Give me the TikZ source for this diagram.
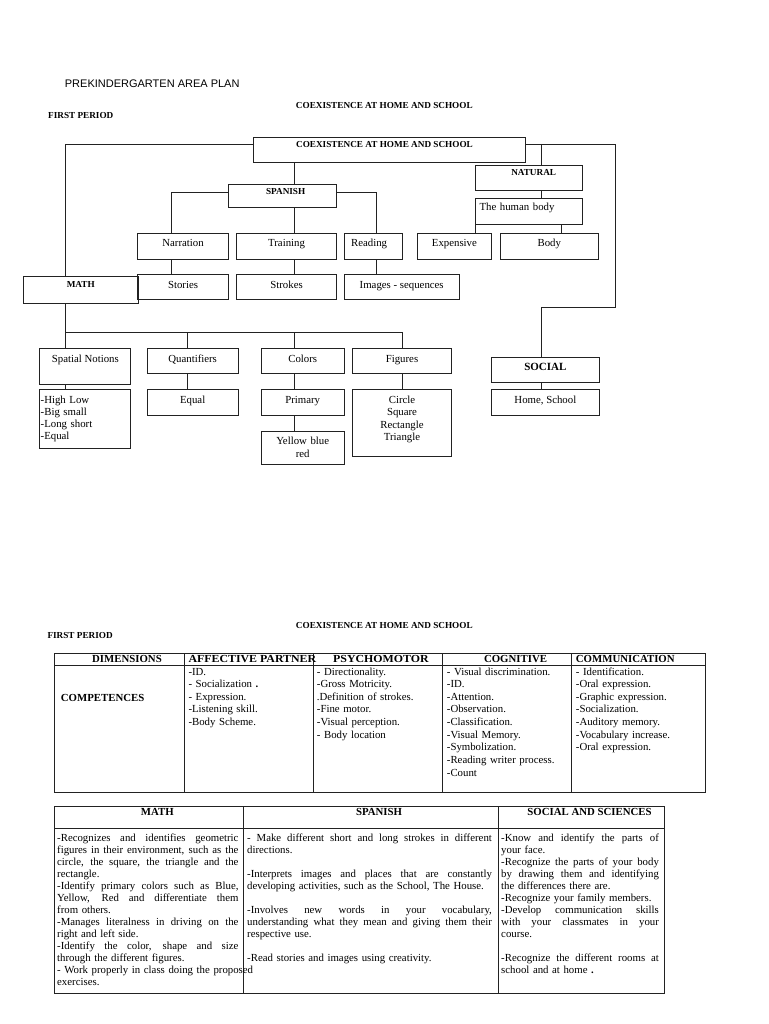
\documentclass[tikz,border=0pt]{standalone}
\usepackage{fontspec}
\setmainfont{Liberation Serif}
\newfontfamily\arialf{Liberation Sans}
\usetikzlibrary{calc}
\definecolor{linec}{HTML}{222222}
\newcommand\ftree{\fontsize{10.8}{12.5}\selectfont}
\newcommand\fttl{\fontsize{9.2}{11}\selectfont\bfseries}
\newcommand\fsoc{\fontsize{11}{13}\selectfont\bfseries}
\newcommand\ftab{\fontsize{10.8}{12.65}\selectfont}
\newcommand\ftabb{\fontsize{10.8}{12.07}\selectfont}
\newcommand\fhead{\fontsize{10.8}{12}\selectfont\bfseries}
\def\cw{100pt}
\newcommand\jl[1]{\leavevmode\hbox to \cw{\spaceskip=0.25em plus 1fil\relax #1}}
\newcommand\nl[1]{\leavevmode\hbox to \cw{#1\hss}}
\begin{document}
\begin{tikzpicture}[x=1pt,y=-1pt,
  bx/.style={draw=linec, line width=0.95pt, inner sep=0pt, font=\ftree, text=black},
  conn/.style={draw=linec, line width=0.95pt},
  tab/.style={draw=linec, line width=1pt},
  txt/.style={inner sep=0pt, text=black},
]
\useasboundingbox[fill=white] (0,0) rectangle (768,1024);

% ---------- titles ----------
\node[txt, font=\arialf\fontsize{11}{13}\selectfont, anchor=base west] (title) at (64.7,87.2) {PREKINDERGARTEN AREA PLAN};
\node[txt, font=\fttl, anchor=base] (sub1) at (384.3,108.7) {COEXISTENCE AT HOME AND SCHOOL};
\node[txt, font=\fttl, anchor=base west] (fp1) at (48,119) {FIRST PERIOD};

% ---------- tree boxes ----------
\node[bx, font=\fttl, minimum width=272pt, text height=11pt, text depth=14pt] (main) at (389,149.5) {COEXISTENCE AT HOME AND SCHOOL\kern9pt};
\node[bx, font=\fttl, minimum width=107.9pt, text height=10.7pt, text depth=12.7pt] (spanish) at (282.35,196) {\kern6.6pt SPANISH};
\node[bx, font=\fttl, minimum width=106.9pt, text height=10.7pt, text depth=14pt] (natural) at (528.95,177.65) {\kern9.4pt NATURAL};
\node[bx, text width=98.9pt, inner xsep=4pt, align=left, text height=12.7pt, text depth=13pt] (humanbody) at (528.95,211.15) {The human body};

\node[bx, minimum width=73.6pt, text height=13.7pt, text depth=12.3pt] (expensive) at (454.4,246.3) {Expensive};
\node[bx, minimum width=98.5pt, text height=13.7pt, text depth=12.3pt] (body) at (549.25,246.3) {Body};
\node[bx, minimum width=90.7pt, text height=13.7pt, text depth=12.3pt] (narration) at (183.05,246.3) {Narration};
\node[bx, minimum width=99.5pt, text height=13.7pt, text depth=12.3pt] (training) at (286.55,246.3) {Training};
\node[bx, text width=50.9pt, inner xsep=3.5pt, align=left, text height=13.7pt, text depth=12.3pt] (reading) at (373.05,246.3) {\hspace*{3.5pt}Reading};

\node[bx, minimum width=90.7pt, text height=13.7pt, text depth=11.3pt] (stories) at (183.05,286.8) {Stories};
\node[bx, minimum width=99.5pt, text height=13.7pt, text depth=11.3pt] (strokes) at (286.55,286.8) {Strokes};
\node[bx, minimum width=115.2pt, text height=13.7pt, text depth=11.3pt] (images) at (401.7,286.8) {Images - sequences};
\node[bx, font=\fttl, minimum width=114.5pt, text height=11.5pt, text depth=15.5pt] (math) at (80.75,289.5) {MATH};

\node[bx, minimum width=91.2pt, text height=14.2pt, text depth=21.8pt] (spatial) at (85.3,366.3) {Spatial Notions};
\node[bx, minimum width=91.1pt, text height=14pt, text depth=11pt] (quant) at (192.65,360.8) {Quantifiers};
\node[bx, minimum width=82.8pt, text height=14pt, text depth=11pt] (colors) at (302.7,360.8) {Colors};
\node[bx, minimum width=99pt, text height=14pt, text depth=11pt] (figures) at (402,360.8) {Figures};
\node[bx, font=\fsoc, minimum width=107.3pt, text height=12.7pt, text depth=12.3pt] (social) at (545.35,369.8) {SOCIAL};

\node[bx, font=\fontsize{10.8}{12.2}\selectfont, text width=89.2pt, inner xsep=1pt, align=left, text height=14pt, text depth=45pt] (highlow) at (85.3,418.8) {-High Low\\-Big small\\-Long short\\-Equal};
\node[bx, minimum width=91.1pt, text height=13.7pt, text depth=12.3pt] (equal) at (192.65,402.3) {Equal};
\node[bx, minimum width=82.8pt, text height=13.7pt, text depth=12.3pt] (primary) at (302.7,402.3) {Primary};
\node[bx, font=\fontsize{10.8}{13.4}\selectfont, text width=82.8pt, align=center, text height=13pt, text depth=20.7pt] (yellow) at (302.7,447.85) {Yellow blue\\red};
\node[bx, font=\fontsize{10.8}{12.5}\selectfont, text width=99pt, align=center, text height=13.7pt, text depth=53.3pt] (shapes) at (402,422.8) {Circle\\Square\\Rectangle\\Triangle};
\node[bx, minimum width=107.3pt, text height=13.7pt, text depth=12.3pt] (home) at (545.35,402.3) {Home, School};

% ---------- tree connectors ----------
\coordinate (rbend) at (615,307);
\coordinate (nj) at (541.7,144);
\coordinate (busL) at (65.2,332);
\draw[conn] ([yshift=5.5pt]main.west) -| ([xshift=-15.5pt]math.north);
\draw[conn] ([yshift=5.5pt]main.east) -| (rbend) -| ([xshift=-3.65pt]social.north);
\draw[conn] (nj) -- (nj |- natural.north);
\draw[conn] (nj |- natural.south) -- (nj |- humanbody.north);
\draw[conn] (humanbody.south west) -- (humanbody.south west |- expensive.north);
\draw[conn] ([xshift=12pt]body.north) -- ([xshift=12pt]body.north |- humanbody.south);
\draw[conn] ([xshift=12.3pt]spanish.north) -- ([xshift=12.3pt]spanish.north |- main.south);
\draw[conn] ([yshift=4pt]spanish.west) -| ([xshift=-12pt]narration.north);
\draw[conn] ([xshift=8.1pt]training.north) -- ([xshift=8.1pt]training.north |- spanish.south);
\draw[conn] ([yshift=4pt]spanish.east) -| ([xshift=3.5pt]reading.north);
\draw[conn] ([xshift=-12pt]narration.south) -- ([xshift=-12pt]stories.north);
\draw[conn] ([xshift=8.1pt]training.south) -- ([xshift=8.1pt]strokes.north);
\draw[conn] ([xshift=3.5pt]reading.south) -- ([xshift=3.5pt]reading.south |- images.north);
\draw[conn] (busL |- math.south) -- (busL |- spatial.north);
\draw[conn] (busL) -| (figures.north);
\draw[conn] ([xshift=-4.8pt]quant.north) -- ([xshift=-4.8pt]quant.north |- busL);
\draw[conn] ([xshift=-8.1pt]colors.north) -- ([xshift=-8.1pt]colors.north |- busL);
\draw[conn] (busL |- spatial.south) -- (busL |- highlow.north);
\draw[conn] ([xshift=-4.8pt]quant.south) -- ([xshift=-4.8pt]equal.north);
\draw[conn] ([xshift=-8.1pt]colors.south) -- ([xshift=-8.1pt]primary.north);
\draw[conn] ([xshift=-8.1pt]primary.south) -- ([xshift=-8.1pt]yellow.north);
\draw[conn] (figures.south) -- (shapes.north);
\draw[conn] ([xshift=-3.65pt]social.south) -- ([xshift=-3.65pt]home.north);

% ---------- second heading ----------
\node[txt, font=\fttl, anchor=base] (sub2) at (384.3,628) {COEXISTENCE AT HOME AND SCHOOL};
\node[txt, font=\fttl, anchor=base west] (fp2) at (47.3,638) {FIRST PERIOD};

% ---------- table 1 ----------
\draw[tab] (54,653) rectangle (705,792);
\draw[tab] (54,665.5) -- (705,665.5);
\foreach \x in {184,313,442,571} \draw[tab] (\x,653) -- (\x,792);
\node[txt, font=\fhead, anchor=base] (h1) at (127,662) {DIMENSIONS};
\node[txt, font=\fhead, anchor=base west] (h2) at (188.3,662) {\scalebox{1.1}[1]{AFFECTIVE PARTNER}};
\node[txt, font=\fhead, anchor=base west] (h3) at (333,662) {\scalebox{1.1}[1]{PSYCHOMOTOR}};
\node[txt, font=\fhead, anchor=base] (h4) at (515.5,662) {COGNITIVE};
\node[txt, font=\fhead, anchor=base west] (h5) at (575.7,662) {COMMUNICATION};
\node[txt, font=\fhead, anchor=base west] (comp) at (60.7,701) {COMPETENCES};
\node[txt, font=\ftab, anchor=base west, text width=120pt, align=left] (c1) at (188.3,675)
  {-ID.\\- Socialization \textbf{.}\\- Expression.\\-Listening skill.\\-Body Scheme.};
\node[txt, font=\ftab, anchor=base west, text width=122pt, align=left] (c2) at (316.7,675)
  {- Directionality.\\-Gross Motricity.\\.Definition of strokes.\\-Fine motor.\\-Visual perception.\\- Body location};
\node[txt, font=\ftab, anchor=base west, text width=122pt, align=left] (c3) at (446.7,675)
  {- Visual discrimination.\\-ID.\\-Attention.\\-Observation.\\-Classification.\\-Visual Memory.\\-Symbolization.\\-Reading writer process.\\-Count};
\node[txt, font=\ftab, anchor=base west, text width=126pt, align=left] (c4) at (575.7,675)
  {- Identification.\\-Oral expression.\\-Graphic expression.\\-Socialization.\\-Auditory memory.\\-Vocabulary increase.\\-Oral expression.};

% ---------- table 2 ----------
\draw[tab] (54,806) rectangle (664,993);
\draw[tab] (54,828) -- (664,828);
\foreach \x in {243,498} \draw[tab] (\x,806) -- (\x,993);
\node[txt, font=\fhead, anchor=base] (m1) at (157.3,815.6) {MATH};
\node[txt, font=\fhead, anchor=base] (m2) at (379,815.6) {SPANISH};
\node[txt, font=\fhead, anchor=base] (m3) at (589.5,815.6) {SOCIAL AND SCIENCES};
\node[txt, font=\ftabb, anchor=base west, text width=181.3pt, align=left] (d1) at (57,841)
  {\def\cw{181.3pt}%
   \jl{-Recognizes and identifies geometric}\\
   \jl{figures in their environment, such as the}\\
   \jl{circle, the square, the triangle and the}\\
   \nl{rectangle.}\\
   \jl{-Identify primary colors such as Blue,}\\
   \jl{Yellow, Red and differentiate them}\\
   \nl{from others.}\\
   \jl{-Manages literalness in driving on the}\\
   \nl{right and left side.}\\
   \jl{-Identify the color, shape and size}\\
   \nl{through the different figures.}\\
   \nl{- Work properly in class doing the proposed}\\
   \nl{exercises.}};
\node[txt, font=\ftabb, anchor=base west, text width=244.7pt, align=left] (d2) at (247,841)
  {\def\cw{244.7pt}%
   \jl{- Make different short and long strokes in different}\\
   \nl{directions.}\\
   \mbox{}\\
   \jl{-Interprets images and places that are constantly}\\
   \nl{developing activities, such as the School, The House.}\\
   \mbox{}\\
   \jl{-Involves new words in your vocabulary,}\\
   \jl{understanding what they mean and giving them their}\\
   \nl{respective use.}\\
   \mbox{}\\
   \nl{-Read stories and images using creativity.}};
\node[txt, font=\ftabb, anchor=base west, text width=157.7pt, align=left] (d3) at (501,841)
  {\def\cw{157.7pt}%
   \jl{-Know and identify the parts of}\\
   \nl{your face.}\\
   \jl{-Recognize the parts of your body}\\
   \jl{by drawing them and identifying}\\
   \nl{the differences there are.}\\
   \nl{-Recognize your family members.}\\
   \jl{-Develop communication skills}\\
   \jl{with your classmates in your}\\
   \nl{course.}\\
   \mbox{}\\
   \jl{-Recognize the different rooms at}\\
   \nl{school and at home \textbf{.}}};
\end{tikzpicture}
\end{document}
